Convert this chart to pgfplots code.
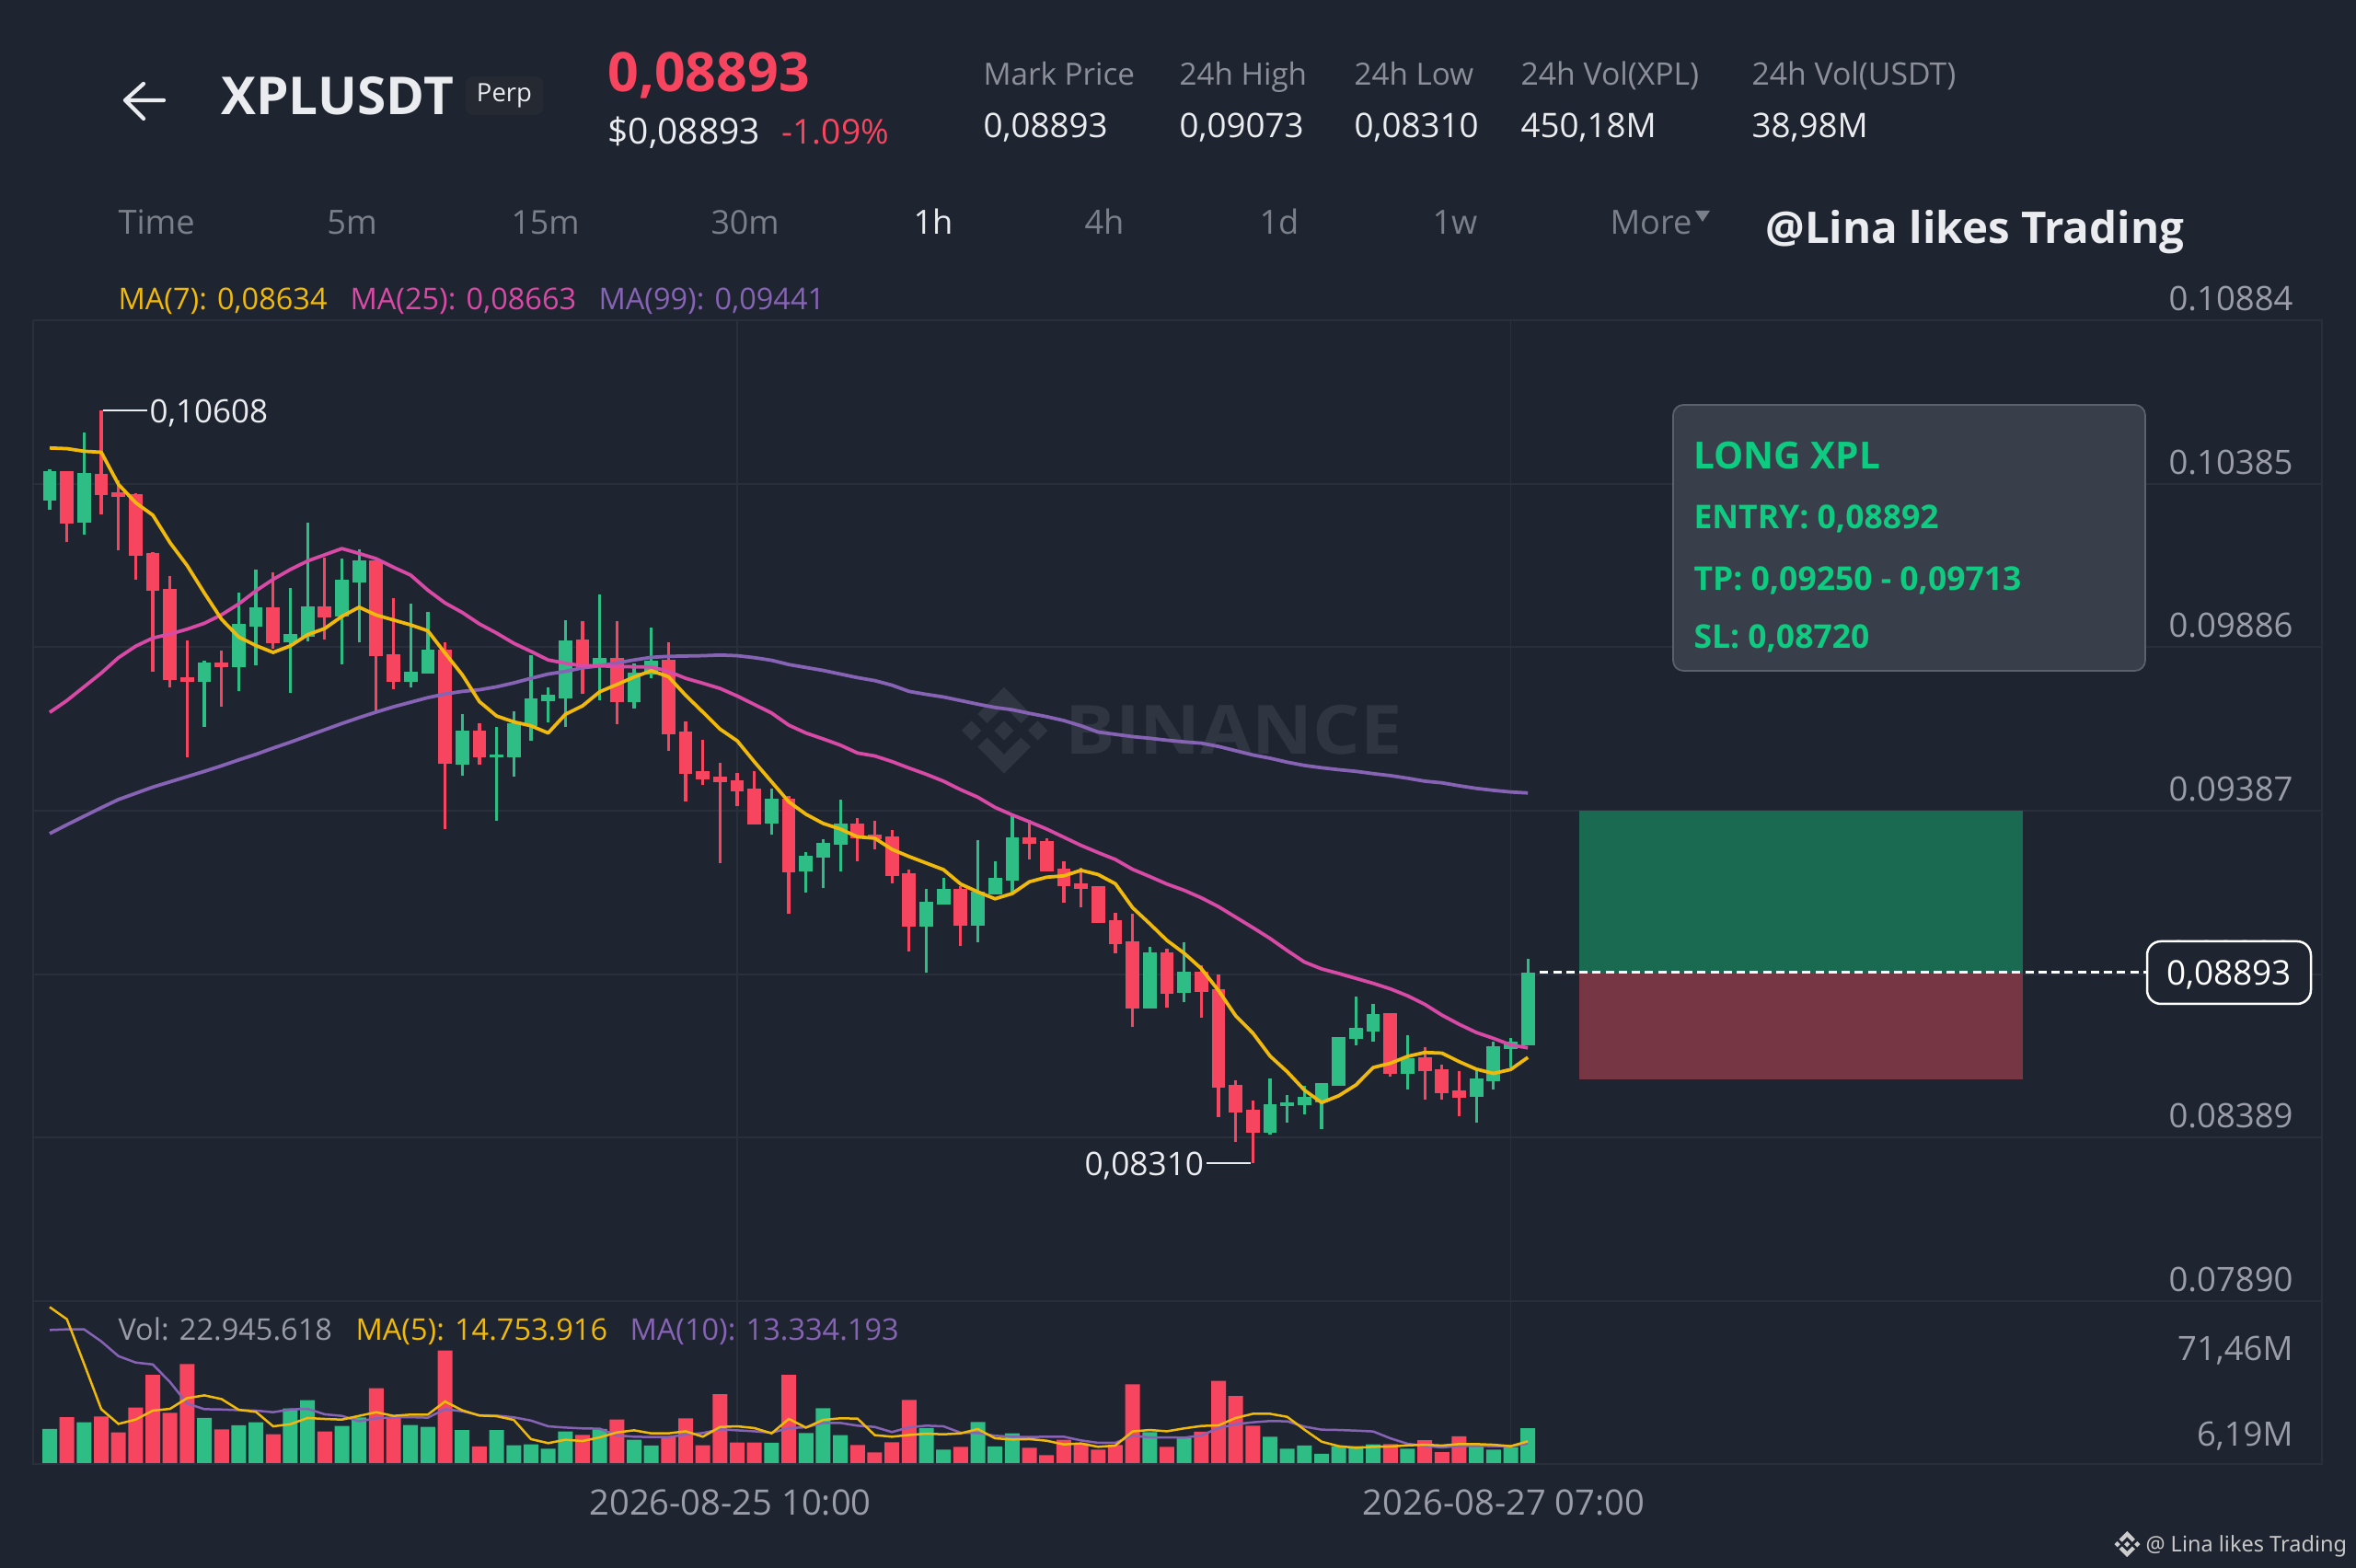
\documentclass[border=0pt]{standalone}
\usepackage{pgfplots}
\usepackage{pgfplotstable}
\usepackage{fontspec}
\pgfplotsset{compat=1.18}
\setmainfont{Open Sans}
\newfontfamily\notos{Noto Sans}
\definecolor{bgc}{HTML}{1E2530}
\definecolor{gridc}{HTML}{2A303B}
\definecolor{cg}{HTML}{2EBD85}
\definecolor{cr}{HTML}{F8455F}
\definecolor{my}{HTML}{F0B90B}
\definecolor{mp}{HTML}{D84AA6}
\definecolor{mv}{HTML}{8763B5}
\definecolor{zg}{HTML}{1A6951}
\definecolor{zr}{HTML}{763643}
\definecolor{tick}{HTML}{9A9CA8}
\definecolor{dimc}{HTML}{7B7F8A}
\definecolor{head}{HTML}{8C8F99}
\definecolor{wht}{HTML}{EAECEF}
\definecolor{tipf}{HTML}{393F4A}
\definecolor{tipb}{HTML}{5C626D}
\definecolor{tipg}{HTML}{0ECB81}
\definecolor{wm}{HTML}{303641}
\pgfplotstableread{
i H T B L
0 0.10428 0.10422 0.10334 0.10304
2 0.10540 0.10418 0.10266 0.10229
9 0.09845 0.09840 0.09781 0.09643
11 0.10052 0.09957 0.09824 0.09751
12 0.10123 0.10008 0.09949 0.09831
14 0.10066 0.09926 0.09900 0.09746
15 0.10267 0.10010 0.09917 0.09904
17 0.10156 0.10093 0.09979 0.09834
18 0.10185 0.10152 0.10084 0.09900
21 0.10018 0.09811 0.09780 0.09762
22 0.09994 0.09878 0.09805 0.09805
24 0.09682 0.09630 0.09527 0.09494
26 0.09642 0.09559 0.09550 0.09357
27 0.09690 0.09653 0.09551 0.09490
28 0.09863 0.09731 0.09646 0.09600
29 0.09763 0.09740 0.09720 0.09656
30 0.09967 0.09907 0.09730 0.09642
32 0.10046 0.09852 0.09826 0.09724
34 0.09835 0.09809 0.09718 0.09699
35 0.09947 0.09846 0.09802 0.09791
42 0.09455 0.09424 0.09348 0.09313
44 0.09260 0.09250 0.09201 0.09137
45 0.09301 0.09289 0.09243 0.09152
46 0.09420 0.09347 0.09283 0.09202
51 0.09149 0.09108 0.09033 0.08893
52 0.09181 0.09148 0.09101 0.09101
54 0.09297 0.09140 0.09037 0.08984
55 0.09232 0.09182 0.09132 0.09130
56 0.09370 0.09305 0.09173 0.09137
64 0.08971 0.08954 0.08782 0.08782
66 0.08985 0.08895 0.08830 0.08803
71 0.08570 0.08492 0.08405 0.08398
72 0.08520 0.08496 0.08484 0.08436
73 0.08547 0.08514 0.08488 0.08461
74 0.08555 0.08555 0.08496 0.08414
75 0.08697 0.08697 0.08546 0.08546
76 0.08819 0.08723 0.08691 0.08672
77 0.08798 0.08765 0.08714 0.08681
79 0.08702 0.08632 0.08584 0.08536
83 0.08594 0.08569 0.08513 0.08434
84 0.08683 0.08668 0.08562 0.08536
85 0.08694 0.08683 0.08660 0.08602
86 0.08934 0.08893 0.08671 0.08671
}\greencandles
\pgfplotstableread{
i H T B L
1 0.10422 0.10422 0.10264 0.10208
3 0.10608 0.10416 0.10351 0.10292
4 0.10394 0.10360 0.10344 0.10181
5 0.10357 0.10353 0.10165 0.10093
6 0.10176 0.10173 0.10058 0.09812
7 0.10102 0.10065 0.09786 0.09763
8 0.09907 0.09793 0.09780 0.09550
10 0.09875 0.09840 0.09824 0.09705
13 0.10113 0.10007 0.09899 0.09880
16 0.10160 0.10010 0.09978 0.09908
19 0.10152 0.10152 0.09858 0.09690
20 0.10035 0.09864 0.09780 0.09758
23 0.09900 0.09878 0.09529 0.09332
25 0.09653 0.09631 0.09550 0.09526
31 0.09965 0.09908 0.09821 0.09743
33 0.09965 0.09852 0.09718 0.09652
36 0.09900 0.09847 0.09620 0.09570
37 0.09659 0.09629 0.09500 0.09415
38 0.09602 0.09508 0.09482 0.09466
39 0.09533 0.09491 0.09475 0.09226
40 0.09501 0.09481 0.09447 0.09400
41 0.09508 0.09455 0.09346 0.09344
43 0.09432 0.09424 0.09199 0.09072
47 0.09364 0.09348 0.09304 0.09232
48 0.09356 0.09314 0.09299 0.09269
49 0.09328 0.09307 0.09188 0.09165
50 0.09206 0.09196 0.09033 0.08958
53 0.09156 0.09149 0.09037 0.08974
57 0.09360 0.09305 0.09287 0.09239
58 0.09303 0.09294 0.09201 0.09201
59 0.09233 0.09210 0.09158 0.09105
60 0.09212 0.09166 0.09149 0.09091
61 0.09156 0.09156 0.09043 0.09043
62 0.09074 0.09052 0.08979 0.08952
63 0.09072 0.08988 0.08782 0.08726
65 0.08966 0.08954 0.08828 0.08787
67 0.08915 0.08895 0.08833 0.08755
68 0.08888 0.08841 0.08542 0.08451
69 0.08563 0.08550 0.08467 0.08376
70 0.08503 0.08473 0.08405 0.08310
78 0.08768 0.08768 0.08585 0.08574
80 0.08665 0.08634 0.08591 0.08504
81 0.08611 0.08598 0.08525 0.08506
82 0.08591 0.08534 0.08511 0.08455
}\redcandles
\pgfplotstableread{
i m7 m25 m99
0 0.10494 0.09687 0.09317
1 0.10492 0.09723 0.09344
2 0.10484 0.09765 0.09370
3 0.10481 0.09807 0.09396
4 0.10383 0.09854 0.09421
5 0.10327 0.09889 0.09440
6 0.10289 0.09914 0.09459
7 0.10205 0.09926 0.09475
8 0.10135 0.09941 0.09491
9 0.10051 0.09959 0.09507
10 0.09971 0.09985 0.09524
11 0.09917 0.10018 0.09542
12 0.09891 0.10058 0.09559
13 0.09870 0.10093 0.09578
14 0.09890 0.10123 0.09596
15 0.09924 0.10149 0.09615
16 0.09943 0.10168 0.09634
17 0.09980 0.10187 0.09653
18 0.10008 0.10172 0.09671
19 0.09984 0.10156 0.09688
20 0.09969 0.10130 0.09704
21 0.09954 0.10106 0.09718
22 0.09936 0.10060 0.09732
23 0.09868 0.10021 0.09743
24 0.09802 0.09992 0.09751
25 0.09720 0.09957 0.09756
26 0.09676 0.09929 0.09765
27 0.09658 0.09898 0.09777
28 0.09646 0.09873 0.09791
29 0.09624 0.09847 0.09804
30 0.09681 0.09837 0.09812
31 0.09707 0.09829 0.09823
32 0.09750 0.09829 0.09829
33 0.09772 0.09827 0.09838
34 0.09795 0.09826 0.09847
35 0.09814 0.09826 0.09855
36 0.09796 0.09812 0.09858
37 0.09739 0.09791 0.09859
38 0.09688 0.09776 0.09860
39 0.09636 0.09760 0.09862
40 0.09600 0.09737 0.09860
41 0.09536 0.09711 0.09854
42 0.09475 0.09685 0.09846
43 0.09414 0.09648 0.09833
44 0.09376 0.09624 0.09824
45 0.09348 0.09606 0.09815
46 0.09331 0.09587 0.09804
47 0.09307 0.09563 0.09793
48 0.09303 0.09554 0.09784
49 0.09269 0.09537 0.09770
50 0.09247 0.09517 0.09751
51 0.09227 0.09498 0.09742
52 0.09207 0.09477 0.09734
53 0.09163 0.09451 0.09723
54 0.09139 0.09428 0.09712
55 0.09118 0.09397 0.09702
56 0.09134 0.09374 0.09695
57 0.09170 0.09353 0.09684
58 0.09184 0.09331 0.09674
59 0.09188 0.09306 0.09662
60 0.09205 0.09281 0.09646
61 0.09192 0.09259 0.09627
62 0.09164 0.09238 0.09620
63 0.09091 0.09208 0.09613
64 0.09042 0.09186 0.09608
65 0.08991 0.09163 0.09602
66 0.08952 0.09144 0.09597
67 0.08905 0.09121 0.09593
68 0.08838 0.09094 0.09583
69 0.08761 0.09062 0.09570
70 0.08708 0.09030 0.09557
71 0.08638 0.08997 0.09547
72 0.08590 0.08960 0.09535
73 0.08534 0.08925 0.09525
74 0.08496 0.08904 0.09518
75 0.08517 0.08890 0.09512
76 0.08550 0.08875 0.09507
77 0.08603 0.08860 0.09500
78 0.08616 0.08843 0.09494
79 0.08637 0.08822 0.09486
80 0.08649 0.08796 0.09477
81 0.08647 0.08763 0.09472
82 0.08621 0.08735 0.09463
83 0.08598 0.08710 0.09455
84 0.08585 0.08692 0.09449
85 0.08597 0.08672 0.09444
86 0.08634 0.08663 0.09441
}\pricema
\pgfplotstableread{
i v
0 22.4
2 26.6
9 29.3
11 24.7
12 26.6
14 35.2
15 40.4
17 24.3
18 29.7
21 24.9
22 23.7
24 21.8
26 21.8
27 12.2
28 12.8
29 10.1
30 20.9
32 22.4
34 15.7
35 12.1
42 13.8
44 19.9
45 35.4
46 18.6
51 23.0
52 9.6
54 26.8
55 11.5
56 19.7
64 20.5
66 16.6
71 17.6
72 10.1
73 12.1
74 6.9
75 11.7
76 11.7
77 12.8
79 10.1
83 11.5
84 9.6
85 11.1
86 22.95
}\greenvol
\pgfplotstableread{
i v
1 29.8
3 30.2
4 20.3
5 35.8
6 56.2
7 32.5
8 62.9
10 22.2
13 19.1
16 20.9
19 47.8
20 29.3
23 71.46
25 11.5
31 18.7
33 28.3
36 17.8
37 29.1
38 12.2
39 44.2
40 14.0
41 14.0
43 56.2
47 12.4
48 7.8
49 14.2
50 40.6
53 11.3
57 10.7
58 6.1
59 15.7
60 13.4
61 9.6
62 12.4
63 50.3
65 11.3
67 20.7
68 52.4
69 43.0
70 24.5
78 13.0
80 15.5
81 8.0
82 17.8
}\redvol
\pgfplotstableread{
i m5 m10
0 98.5 84.2
1 90.9 84.6
2 63.1 84.6
3 34.8 77.1
4 25.6 67.9
5 28.3 63.9
6 33.9 62.7
7 35.0 51.7
8 41.7 38.3
9 43.4 34.8
10 41.1 34.6
11 34.4 34.2
12 33.1 33.9
13 24.1 32.9
14 25.4 34.6
15 29.3 35.0
16 28.7 31.6
17 28.3 30.6
18 30.6 27.2
19 32.9 29.1
20 30.6 29.7
21 31.4 29.8
22 31.4 29.5
23 39.6 34.8
24 34.1 33.5
25 30.8 31.0
26 30.4 30.8
27 28.1 29.7
28 16.1 27.7
29 13.6 24.1
30 15.7 23.3
31 14.9 22.8
32 17.2 22.6
33 20.3 18.4
34 21.6 17.6
35 19.7 17.4
36 19.7 17.4
37 21.0 18.9
38 17.6 19.9
39 23.7 22.2
40 24.1 21.6
41 23.0 21.0
42 19.7 20.1
43 28.7 23.0
44 23.3 23.5
45 28.1 26.2
46 29.1 26.2
47 28.9 24.5
48 18.6 23.7
49 17.6 20.5
50 18.7 23.5
51 19.5 24.5
52 19.1 24.1
53 19.7 20.1
54 22.4 19.9
55 16.6 18.2
56 15.9 17.6
57 16.1 17.4
58 15.1 17.6
59 12.8 17.6
60 13.4 15.3
61 11.3 13.8
62 12.1 13.8
63 20.9 18.2
64 21.8 17.2
65 21.0 17.2
66 22.8 17.0
67 24.3 18.4
68 24.7 23.0
69 29.3 25.4
70 31.9 26.6
71 31.9 27.4
72 30.0 27.2
73 22.0 23.9
74 14.5 22.0
75 11.7 21.8
76 10.7 21.4
77 11.3 20.9
78 11.5 16.6
79 12.2 13.2
80 12.6 11.9
81 12.1 10.9
82 13.0 11.9
83 13.0 11.9
84 12.6 11.7
85 11.7 11.7
86 14.75 13.33
}\volma
% T{x}{y}{anchor}{colour}{size in pt}{text}, x and y in image pixels
\newcommand\T[6]{\node[anchor=#3,inner sep=0pt,text=#4,font=\fontsize{#5pt}{#5pt}\selectfont] at (#1,#2) {#6};}
\newcommand\blogo[1]{%
  \fill[#1] (423,50)--(510,138)--(478,168)--(423,112)--(368,168)--(337,138)--cycle;
  \fill[#1] (423,332)--(510,245)--(478,215)--(423,270)--(368,215)--(337,245)--cycle;
  \fill[#1] (423,160)--(455,192)--(423,224)--(391,192)--cycle;
  \fill[#1] (317,160)--(349,192)--(317,224)--(285,192)--cycle;
  \fill[#1] (533,160)--(565,192)--(533,224)--(501,192)--cycle;}
\begin{document}
\begin{tikzpicture}
\fill[bgc] (0pt,0pt) rectangle (1024pt,681.6pt);
\begin{scope}[x=0.4pt,y=-0.4pt,yshift=681.6pt]
  \begin{scope}[shift={(950,730)},scale=0.33333]\blogo{wm}\end{scope}
  \T{1157}{820}{base west}{wm}{29.5}{\scalebox{1.1}[1]{\bfseries BINANCE}}
\end{scope}
% price panel
\begin{axis}[
  at={(14.4pt,116pt)},anchor=south west,scale only axis,
  width=994.8pt,height=426.4pt,
  xmin=-0.964,xmax=132.2,ymin=0.0789,ymax=0.10884,
  axis line style={draw=none},
  major tick length=0pt,
  xmajorgrids,ymajorgrids,
  major grid style={color=gridc,line width=0.7pt},
  xtick={-0.964,40,85,132.2},xticklabels={},
  ytick={0.0789,0.08389,0.08888,0.09387,0.09886,0.10385,0.10884},
  yticklabels={0.07890,0.08389,0.08888,0.09387,0.09886,0.10385,0.10884},
  yticklabel pos=right,
  yticklabel style={anchor=east,inner sep=0pt,xshift=-12.4pt,yshift=9.4pt,text=tick,font=\fontsize{14.6pt}{14.6pt}\selectfont},
]
\addplot[fill=zg,draw=none,forget plot] coordinates {(88.97,0.09387)(114.78,0.09387)(114.78,0.08893)(88.97,0.08893)} --cycle;
\addplot[fill=zr,draw=none,forget plot] coordinates {(88.97,0.08893)(114.78,0.08893)(114.78,0.08567)(88.97,0.08567)} --cycle;
\addplot[draw=none,forget plot,error bars/.cd,y dir=plus,y explicit,error mark=none,error bar style={line width=1.3pt,color=cg}]
  table[x=i,y=L,y error expr=\thisrow{H}-\thisrow{L}] {\greencandles};
\addplot[draw=none,forget plot,error bars/.cd,y dir=plus,y explicit,error mark=none,error bar style={line width=5.9pt,color=cg}]
  table[x=i,y=B,y error expr=\thisrow{T}-\thisrow{B}] {\greencandles};
\addplot[draw=none,forget plot,error bars/.cd,y dir=plus,y explicit,error mark=none,error bar style={line width=1.3pt,color=cr}]
  table[x=i,y=L,y error expr=\thisrow{H}-\thisrow{L}] {\redcandles};
\addplot[draw=none,forget plot,error bars/.cd,y dir=plus,y explicit,error mark=none,error bar style={line width=5.9pt,color=cr}]
  table[x=i,y=B,y error expr=\thisrow{T}-\thisrow{B}] {\redcandles};
\addplot[mv,line width=1.5pt,no marks,line join=round] table[x=i,y=m99] {\pricema};
\addplot[mp,line width=1.5pt,no marks,line join=round] table[x=i,y=m25] {\pricema};
\addplot[my,line width=1.5pt,no marks,line join=round] table[x=i,y=m7] {\pricema};
\addplot[white,line width=1.1pt,dash pattern=on 3.6pt off 2.1pt,no marks] coordinates {(86.7,0.08893)(122.07,0.08893)};
\end{axis}
% volume panel
\begin{axis}[
  at={(14.4pt,44.8pt)},anchor=south west,scale only axis,
  width=994.8pt,height=71.2pt,
  xmin=-0.964,xmax=132.2,ymin=0,ymax=102.2,
  axis line style={draw=none},
  major tick length=0pt,
  xmajorgrids,
  major grid style={color=gridc,line width=0.7pt},
  xtick={40,85},
  xticklabels={2026-08-25 10:00,2026-08-27 07:00},
  extra x ticks={-0.964,132.2},extra x tick labels={},
  xticklabel style={anchor=center,yshift=-16.4pt,xshift=-3pt,text=tick,font=\fontsize{15.25pt}{15.25pt}\selectfont},
  ytick={71.46},yticklabels={71{,}46M},
  extra y ticks={6.19},extra y tick labels={6{,}19M},
  extra y tick style={yticklabel style={yshift=8.4pt}},
  yticklabel pos=right,
  yticklabel style={anchor=east,inner sep=0pt,xshift=-12.4pt,text=tick,font=\fontsize{14.6pt}{14.6pt}\selectfont},
  ybar,bar width=6.4pt,
]
\addplot[fill=cg,draw=none,bar shift=0pt,forget plot] table[x=i,y=v] {\greenvol};
\addplot[fill=cr,draw=none,bar shift=0pt,forget plot] table[x=i,y=v] {\redvol};
\addplot[sharp plot,mv,line width=1pt,no marks,bar shift=0pt] table[x=i,y=m10] {\volma};
\addplot[sharp plot,my,line width=1pt,no marks,bar shift=0pt] table[x=i,y=m5] {\volma};
\addplot[sharp plot,gridc,line width=1.4pt,no marks,forget plot] coordinates {(-0.964,0)(132.2,0)};
\end{axis}
\begin{scope}[x=0.4pt,y=-0.4pt,yshift=681.6pt]
  % back arrow
  \draw[wht,line width=1.7pt,line cap=round,line join=round] (178,109)--(136,109) (156,91)--(136,109)--(156,129);
  \T{240}{125}{base west}{wht}{22.7}{\bfseries XPLUSDT}
  \fill[rounded corners=3pt,fill=black!15!gridc] (506,83) rectangle (590,125);
  \T{548}{104}{center}{wht}{11}{Perp}
  \T{660}{100}{base west}{cr}{23.6}{\bfseries 0,08893}
  \T{660}{157}{base west}{wht}{15.6}{\$0,08893}
  \T{849}{157}{base west}{cr}{14.9}{-1.09\%}
  \T{1068}{93}{base west}{head}{13.3}{Mark Price}
  \T{1281}{93}{base west}{head}{13.3}{24h High}
  \T{1471}{93}{base west}{head}{13.3}{24h Low}
  \T{1652}{93}{base west}{head}{13.5}{24h Vol(XPL)}
  \T{1903}{93}{base west}{head}{13.5}{24h Vol(USDT)}
  \T{1068}{150}{base west}{wht}{14.7}{0,08893}
  \T{1281}{150}{base west}{wht}{14.7}{0,09073}
  \T{1471}{150}{base west}{wht}{14.7}{0,08310}
  \T{1652}{150}{base west}{wht}{14.7}{450,18M}
  \T{1903}{150}{base west}{wht}{14.7}{38,98M}
  \T{128}{255}{base west}{dimc}{14.5}{Time}
  \T{355}{255}{base west}{dimc}{14.5}{5m}
  \T{555}{255}{base west}{dimc}{14.3}{15m}
  \T{772}{255}{base west}{dimc}{14.3}{30m}
  \T{992}{255}{base west}{wht}{14.5}{1h}
  \T{1178}{255}{base west}{dimc}{14.5}{4h}
  \T{1368}{255}{base west}{dimc}{14.5}{1d}
  \T{1556}{255}{base west}{dimc}{14.5}{1w}
  \T{1749}{255}{base west}{dimc}{14.5}{More}
  \fill[dimc] (1842,229)--(1858,229)--(1850,241)--cycle;
  \T{1918}{265}{base west}{wht}{19}{\bfseries @Lina likes Trading}
  \T{128}{337}{base west}{my}{13}{MA(7): 0,08634}
  \T{380}{337}{base west}{mp}{13}{MA(25): 0,08663}
  \T{650}{337}{base west}{mv}{13}{MA(99): 0,09441}
  \T{128}{1456.5}{base west}{tick}{13}{Vol: 22.945.618}
  \T{386}{1456.5}{base west}{my}{13}{MA(5): 14.753.916}
  \T{684}{1456.5}{base west}{mv}{13}{MA(10): 13.334.193}
  % high and low tags
  \draw[wht,line width=0.6pt] (112,446)--(160,446);
  \T{162}{460}{base west}{wht}{14}{0,10608}
  \draw[wht,line width=0.6pt] (1311,1264)--(1359,1264);
  \T{1178}{1278}{base west}{wht}{14.1}{0,08310}
  % last price box
  \draw[white,line width=1pt,fill=bgc,rounded corners=6pt] (2333,1023) rectangle (2511,1091);
  \T{2422}{1071}{base}{white}{14.8}{0,08893}
  % trade box
  \draw[tipb,line width=0.7pt,fill=tipf,rounded corners=4.5pt] (1818,440) rectangle (2331,729);
  \T{1840}{509.5}{base west}{tipg}{16.2}{\bfseries LONG XPL}
  \T{1840}{574.5}{base west}{tipg}{14.2}{\bfseries ENTRY: 0,08892}
  \T{1840}{641.5}{base west}{tipg}{14.2}{\bfseries TP: 0,09250 - 0,09713}
  \T{1840}{704.5}{base west}{tipg}{14.2}{\bfseries SL: 0,08720}
  % credit
  \begin{scope}[shift={(2296,1663)},scale=0.1]\begin{scope}[shift={(-270,-40)}]\blogo{black!20!white}\end{scope}\end{scope}
  \node[anchor=base west,inner sep=0pt,text=black!22!white,font=\notos\fontsize{9.4pt}{9.4pt}\selectfont] at (2331,1686.5) {@ Lina likes Trading};
\end{scope}
\end{tikzpicture}
\end{document}
